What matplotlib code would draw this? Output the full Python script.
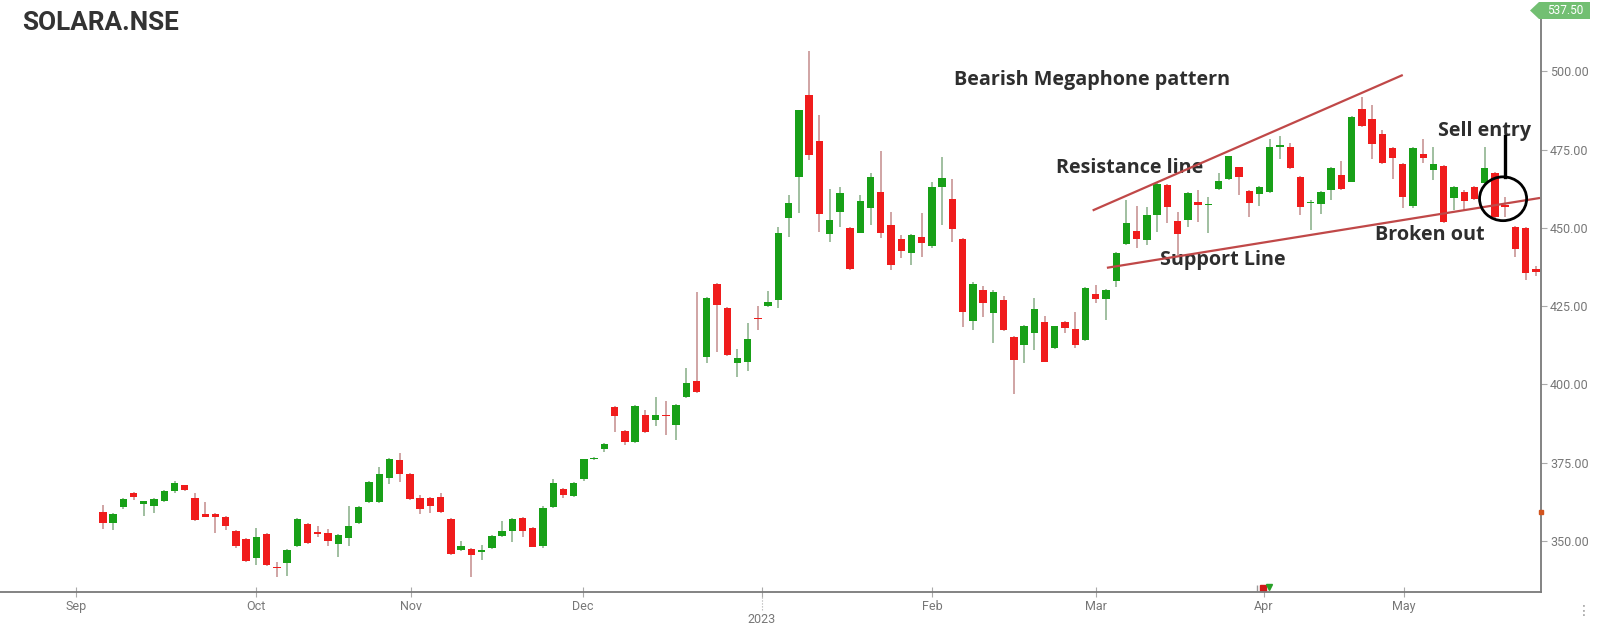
import numpy as np
import matplotlib
matplotlib.use('Agg')
import matplotlib.pyplot as plt
from matplotlib import transforms
from matplotlib.patches import Ellipse, Polygon

# daily candles (one per trading day)
opens = [359.3, 355.8, 360.7, 365.2, 361.8, 361.3, 362.8, 366.0, 367.8, 363.8,
         358.6, 358.6, 357.5, 353.3, 350.5, 344.4, 352.1, 341.6, 342.8, 348.4,
         355.4, 352.5, 352.6, 349.0, 350.8, 355.6, 362.3, 362.3, 370.0, 375.8,
         371.3, 363.6, 363.6, 364.1, 357.1, 347.1, 347.3, 346.6, 347.8, 351.6,
         353.0, 357.4, 354.0, 348.4, 360.7, 366.5, 364.3, 369.7, 376.0, 379.3,
         392.9, 385.1, 381.7, 390.2, 388.6, 390.0, 387.0, 396.1, 401.2, 408.9,
         432.1, 424.3, 406.9, 407.3, 421.3, 425.0, 427.0, 453.0, 466.2, 492.5,
         477.9, 447.9, 455.2, 449.9, 448.5, 456.2, 461.6, 450.9, 446.4, 441.9,
         447.0, 444.2, 463.2, 459.1, 446.4, 420.4, 430.0, 422.7, 427.0, 415.0,
         412.6, 416.3, 420.0, 411.5, 420.0, 417.6, 414.2, 428.9, 427.2, 433.1,
         444.9, 449.1, 446.1, 454.1, 463.7, 452.3, 452.5, 458.4, 457.2, 462.3,
         465.5, 469.3, 461.8, 460.8, 461.3, 475.7, 475.7, 466.4, 457.9, 457.6,
         462.1, 466.9, 464.8, 487.9, 484.7, 480.0, 475.4, 470.4, 457.0, 473.6,
         468.5, 469.8, 459.4, 461.6, 463.2, 464.4, 467.6, 457.0, 450.4, 449.9,
         436.9]
highs = [361.5, 358.8, 363.8, 365.5, 362.9, 363.8, 366.1, 369.2, 368.0, 365.2,
         362.5, 359.0, 357.8, 353.6, 350.8, 354.0, 352.4, 343.4, 347.4, 357.2,
         355.7, 354.8, 353.8, 352.2, 361.1, 361.2, 369.0, 373.7, 376.4, 378.0,
         371.6, 364.5, 363.9, 365.3, 357.4, 350.0, 347.6, 348.7, 351.9, 356.5,
         357.2, 357.7, 354.3, 361.1, 369.9, 366.8, 368.7, 376.3, 376.9, 381.2,
         393.2, 385.4, 393.4, 391.8, 396.1, 394.8, 393.7, 405.1, 429.6, 427.8,
         432.4, 424.6, 411.2, 419.7, 425.0, 429.9, 450.4, 460.5, 487.8, 506.6,
         486.1, 462.3, 462.9, 450.2, 460.5, 467.4, 474.7, 455.2, 447.7, 448.0,
         454.9, 464.8, 472.6, 465.5, 446.7, 432.8, 431.3, 430.0, 428.2, 415.3,
         419.0, 427.5, 422.0, 418.8, 420.3, 423.2, 431.0, 431.8, 430.5, 442.4,
         459.0, 457.0, 456.7, 464.3, 464.0, 455.2, 461.3, 462.1, 460.0, 467.4,
         473.1, 469.6, 462.1, 463.3, 478.3, 479.4, 477.2, 466.7, 458.9, 461.9,
         469.3, 471.5, 485.8, 491.7, 489.3, 481.3, 475.7, 470.7, 475.9, 478.3,
         475.9, 470.1, 463.5, 462.0, 463.5, 475.9, 467.9, 460.0, 450.7, 450.2,
         437.8]
lows = [353.8, 353.5, 360.2, 363.1, 357.9, 358.8, 362.5, 365.2, 366.0, 356.5,
        357.5, 352.6, 353.5, 347.6, 343.3, 342.3, 342.0, 338.6, 338.8, 348.1,
        349.1, 351.2, 348.3, 344.8, 348.3, 355.3, 362.0, 362.0, 368.2, 368.9,
        363.1, 358.5, 359.0, 358.8, 345.5, 346.8, 338.5, 343.9, 347.5, 351.3,
        349.8, 351.4, 347.9, 347.6, 360.4, 363.6, 364.0, 369.2, 375.8, 378.3,
        384.9, 380.6, 381.4, 384.6, 386.7, 383.8, 382.2, 395.8, 397.4, 406.7,
        410.5, 409.1, 402.5, 404.4, 417.4, 424.7, 424.3, 447.2, 454.6, 471.7,
        448.8, 445.6, 450.4, 436.5, 448.2, 450.9, 446.7, 436.5, 440.3, 438.2,
        440.8, 443.5, 450.9, 445.6, 418.4, 417.4, 421.6, 413.1, 417.0, 396.9,
        406.7, 411.0, 407.0, 411.2, 416.3, 411.5, 413.9, 425.9, 420.6, 431.0,
        444.6, 443.5, 444.5, 448.8, 451.5, 441.3, 450.4, 452.0, 448.2, 462.0,
        465.2, 460.5, 453.6, 457.0, 461.0, 471.9, 468.7, 454.1, 449.3, 454.4,
        458.9, 462.0, 464.5, 482.3, 471.9, 470.3, 465.5, 456.3, 456.2, 470.6,
        465.3, 451.7, 455.7, 455.7, 458.8, 464.1, 453.1, 453.6, 440.8, 433.3,
        434.5]
closes = [355.8, 358.6, 363.3, 364.1, 362.6, 363.5, 365.8, 368.4, 366.3, 356.7,
          357.7, 357.5, 354.9, 348.4, 343.6, 351.1, 342.3, 341.3, 347.1, 356.9,
          349.4, 352.3, 350.1, 351.9, 354.8, 360.9, 368.7, 371.4, 376.1, 371.4,
          363.4, 360.1, 361.1, 359.3, 345.8, 348.4, 345.5, 347.1, 351.6, 353.0,
          356.9, 353.0, 348.2, 360.4, 368.4, 364.7, 368.4, 376.0, 376.6, 380.9,
          389.9, 381.7, 393.1, 384.9, 390.2, 389.8, 393.4, 400.3, 397.7, 427.5,
          425.4, 409.4, 408.3, 414.4, 420.9, 426.4, 448.3, 457.8, 487.5, 473.3,
          454.4, 452.5, 461.0, 436.8, 458.7, 466.4, 448.5, 438.1, 442.7, 447.7,
          445.1, 462.9, 465.8, 449.5, 423.2, 432.1, 425.9, 429.6, 417.4, 407.8,
          418.7, 424.0, 407.3, 418.5, 417.9, 412.6, 430.7, 427.2, 430.2, 442.1,
          451.7, 446.6, 454.1, 464.0, 456.6, 448.0, 461.0, 457.3, 457.4, 465.1,
          472.8, 466.2, 457.8, 463.0, 475.7, 476.5, 469.0, 456.8, 458.2, 461.6,
          469.0, 462.3, 485.5, 482.6, 476.8, 470.6, 472.2, 460.0, 475.4, 472.2,
          470.4, 452.0, 463.2, 458.7, 459.1, 469.0, 453.4, 456.7, 443.1, 435.5,
          435.9]

month_pos = [-2.6, 15.0, 30.1, 46.9, 81.0, 97.0, 113.4, 127.1]
month_lbl = ['Sep', 'Oct', 'Nov', 'Dec', 'Feb', 'Mar', 'Apr', 'May']
year_pos = 64.4
year_lbl = '2023'
price_ticks = [350, 375, 400, 425, 450, 475, 500]
last_tag = '537.50'

# trend lines of the megaphone
resist_x = [96.8, 126.9]
resist_y = [455.7, 498.7]
support_x = [98.2, 140.3]
support_y = [437.3, 459.5]

GREEN = '#18a018'
RED = '#f01c1c'
GRAY = '#7a7a7a'

fig = plt.figure(figsize=(16, 6.25), dpi=100)
ax = fig.add_axes([0.0, 0.0528, 0.9631, 0.9312])

x = np.arange(len(opens))
o = np.array(opens); c = np.array(closes)
h = np.array(highs); l = np.array(lows)
up = c >= o
body_col = np.where(up, GREEN, RED)
wick_col = np.where(up, '#86ad86', '#c48c8c')

ax.vlines(x, l, h, colors=wick_col, linewidth=1.1, zorder=2)
bottom = np.minimum(o, c)
height = np.maximum(np.abs(c - o), 0.45)
ax.bar(x, height, bottom=bottom, width=0.72, color=body_col, linewidth=0, zorder=3)

# annotations
ax.plot(resist_x, resist_y, color='#c04848', lw=1.6, zorder=4)
ax.plot(support_x, support_y, color='#c04848', lw=1.6, zorder=4)
ax.add_patch(Ellipse((136.8, 459.3), 4.6, 14.0, fill=False, ec='black', lw=2, zorder=5))
ax.plot([137.0, 137.0], [479.5, 466.3], color='black', lw=2.4, zorder=5)

tfont = dict(family='Open Sans', fontweight='bold', color='#2e2e2e', fontsize=14.2)
ax.text(83.2, 497.1, 'Bearish Megaphone pattern', ha='left', va='center', **tfont)
ax.text(93.1, 469.1, 'Resistance line', ha='left', va='center', **tfont)
ax.text(103.3, 439.7, 'Support Line', ha='left', va='center', **tfont)
ax.text(124.3, 447.7, 'Broken out', ha='left', va='center', **tfont)
ax.text(130.4, 481.0, 'Sell entry', ha='left', va='center', **tfont)

ax.set_xlim(-10.05, 140.5)
ax.set_ylim(333.67, 519.6)

# axes styling
for s in ['top', 'left']:
    ax.spines[s].set_visible(False)
for s in ['bottom', 'right']:
    ax.spines[s].set_color(GRAY)
    ax.spines[s].set_linewidth(1.3)

ax.yaxis.tick_right()
ax.set_yticks(price_ticks)
ax.set_yticklabels(['%.2f' % p for p in price_ticks])
ax.tick_params(axis='y', direction='out', length=4, width=0.8, color='#aaaaaa',
               pad=2.5, labelsize=9, labelcolor='#777777')
ax.set_xticks(month_pos + [year_pos])
ax.set_xticklabels(month_lbl + [''])
ax.tick_params(axis='x', direction='inout', length=7, width=0.8, color='#aaaaaa',
               pad=2, labelsize=9, labelcolor='#777777')
for lab in ax.get_xticklabels() + ax.get_yticklabels():
    lab.set_family('Roboto')

bt = transforms.blended_transform_factory(ax.transData, ax.transAxes)
ax.plot([year_pos, year_pos], [-0.008, -0.033], transform=bt, color='#aaaaaa',
        lw=0.8, ls=':', clip_on=False)
ax.text(year_pos, -0.047, year_lbl, transform=bt, ha='center', va='center',
        fontsize=9, color='#777777', family='Roboto')

# little markers near the axes
ax.plot([140.5], [359.3], marker='s', ms=3, color='#d2541e', clip_on=False, zorder=6)
ax.plot([112.8], [335.0], marker='|', ms=5, color='#999999', clip_on=False)
ax.plot([113.35], [335.0], marker='s', ms=4, color='#d01818', clip_on=False)
ax.plot([113.95], [335.3], marker='v', ms=4, color='#28a028', clip_on=False)

# title and last-price tag
fig.text(22 / 1600, 1 - 22.5 / 625, 'SOLARA.NSE', family='Roboto', fontweight='bold',
         fontsize=18.8, color='#333333', ha='left', va='center')
tag = [(1530, 10.5), (1539, 2), (1590, 2), (1590, 19), (1539, 19)]
fig.patches.append(Polygon([(px / 1600, 1 - py / 625) for px, py in tag], closed=True,
                           fc='#72bf72', ec='none', transform=fig.transFigure, figure=fig))
fig.text(1565 / 1600, 1 - 10.5 / 625, last_tag, family='Roboto', fontsize=8.5,
         color='white', ha='center', va='center')
fig.text(1584 / 1600, 1 - 611 / 625, '\u22ee', fontsize=10, color='#999999',
         ha='center', va='center')

plt.savefig('out.png', dpi=100)
